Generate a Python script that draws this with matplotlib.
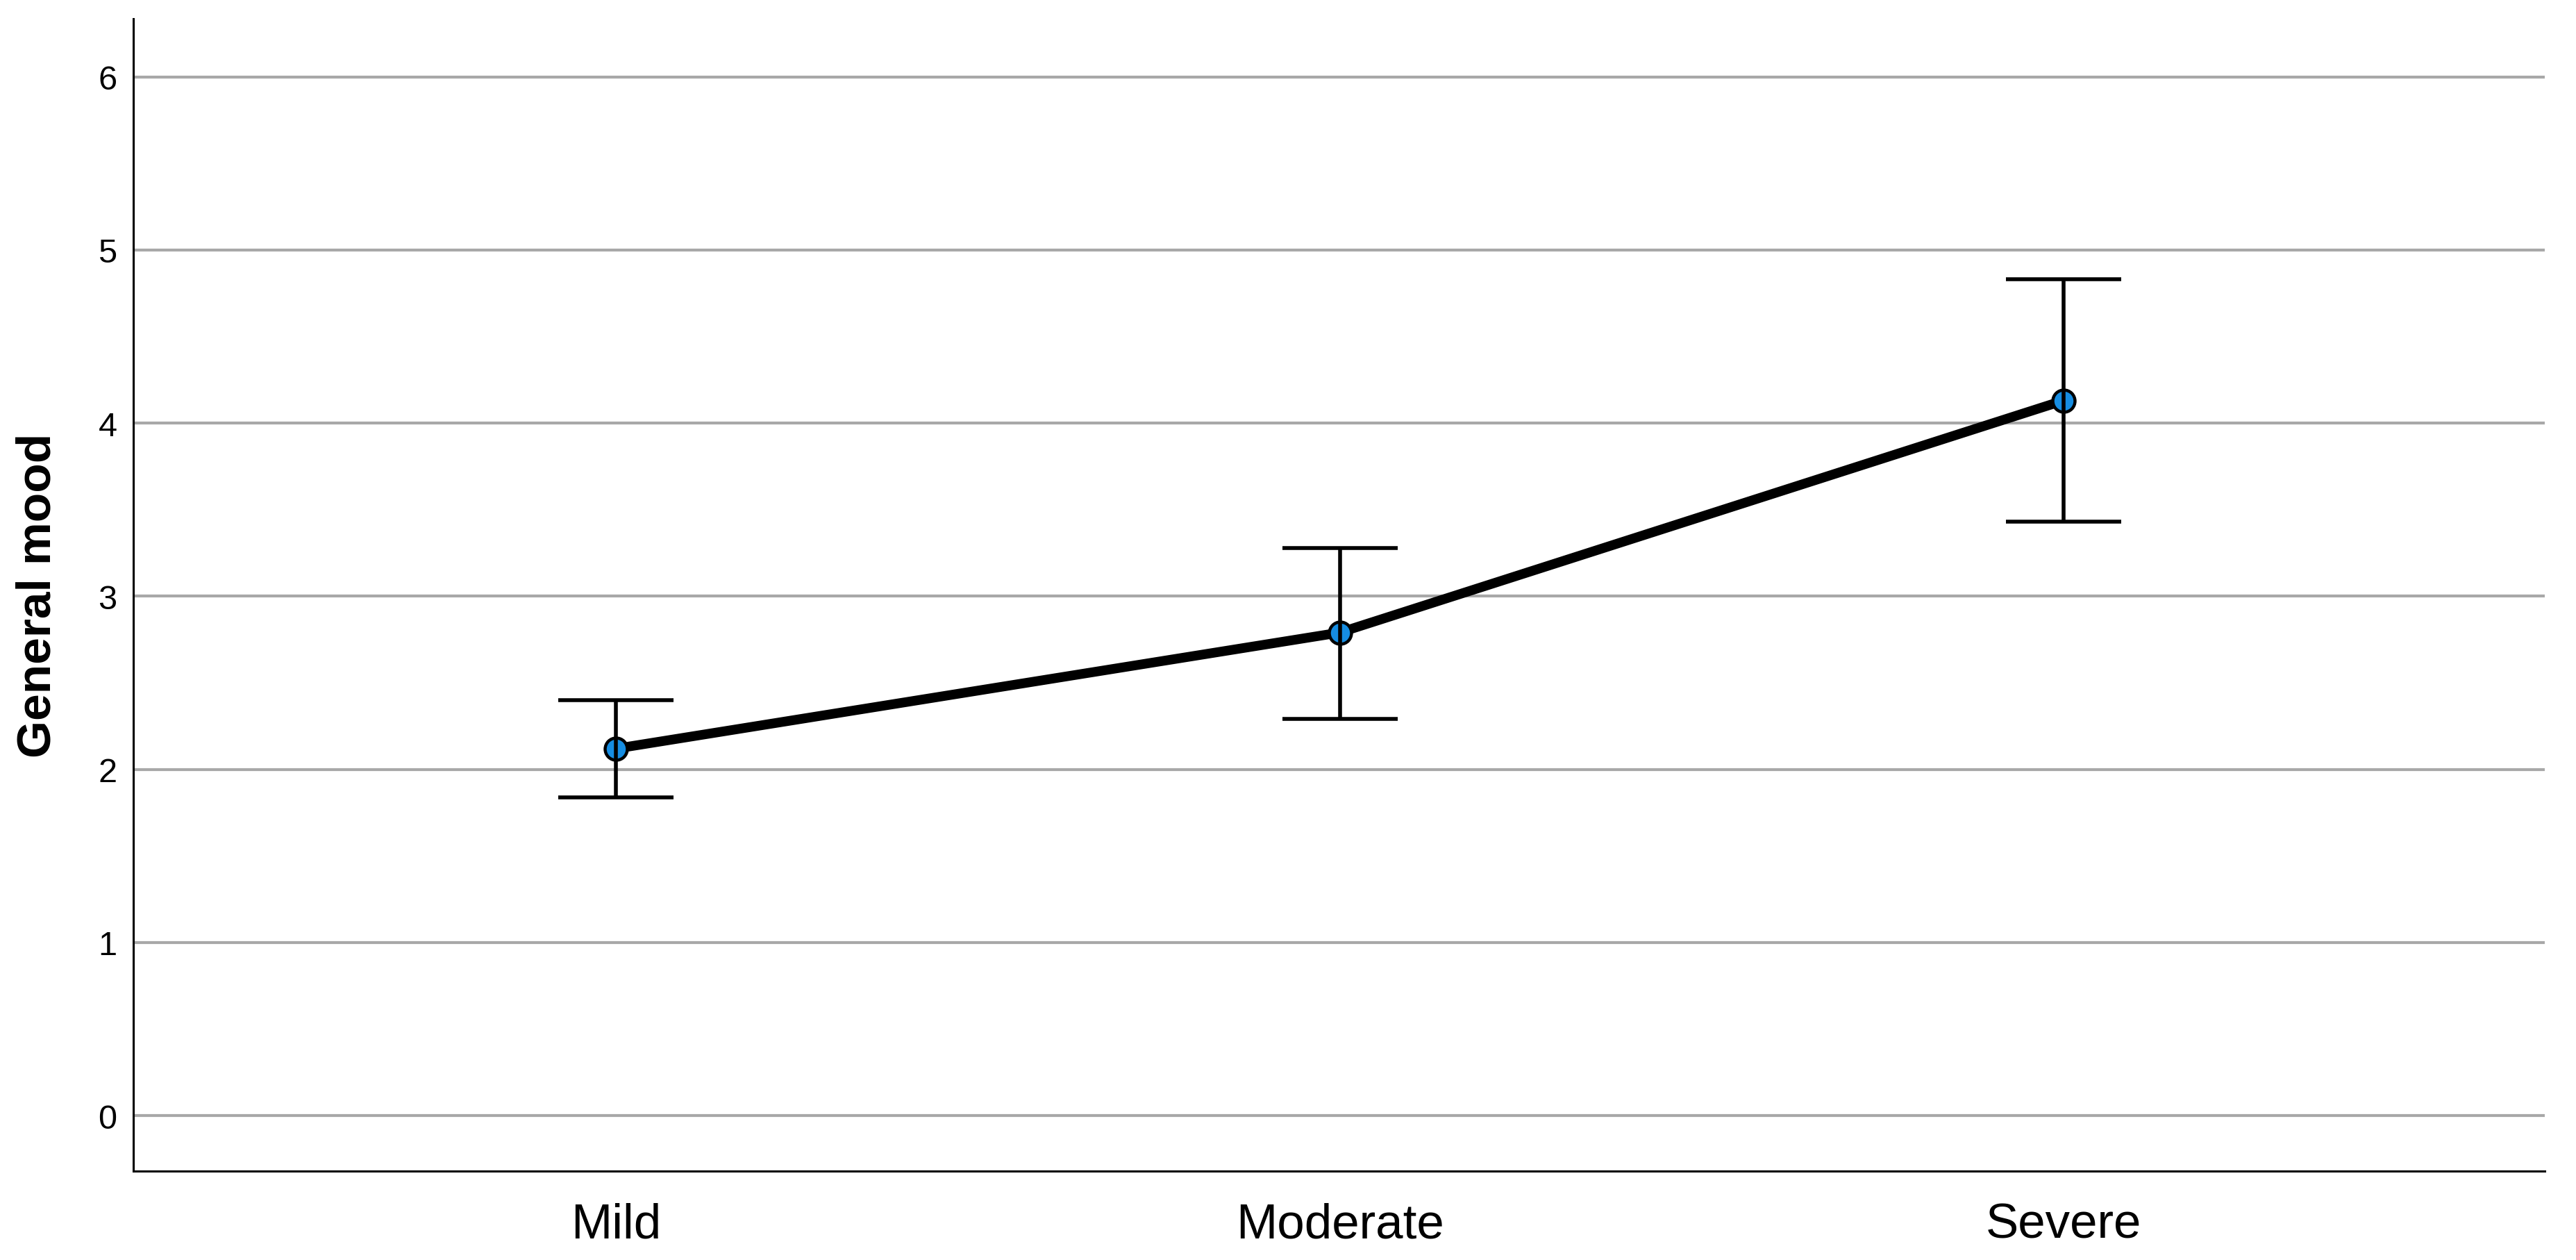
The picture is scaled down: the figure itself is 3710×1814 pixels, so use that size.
import numpy as np
import matplotlib.pyplot as plt

plt.rcParams['font.family'] = ['Liberation Sans', 'DejaVu Sans']

categories = ['Mild', 'Moderate', 'Severe']
means = [2.12, 2.79, 4.13]
ci_low = [1.84, 2.29, 3.43]
ci_high = [2.40, 3.28, 4.83]

x = np.arange(len(categories))
means = np.array(means)
yerr = [means - np.array(ci_low), np.array(ci_high) - means]

fig = plt.figure(figsize=(18.55, 9.075), dpi=200)
ax = fig.add_axes([192 / 3710, 1 - 1687 / 1815, (3665 - 192) / 3710, (1687 - 28) / 1815])

# grid behind everything
ax.set_axisbelow(True)
ax.yaxis.grid(True, color='#a8a8a8', linewidth=1.5)

ax.plot(x, means, color='black', linewidth=5.0, zorder=2, solid_capstyle='butt')
ax.scatter(x, means, s=11.5 ** 2, color='#168de2', edgecolor='black', linewidth=1.6, zorder=3)
ax.errorbar(x, means, yerr=yerr, fmt='none', ecolor='black', elinewidth=2.0,
            capsize=30, capthick=2.0, zorder=4)

ax.set_xlim(-0.667, 2.665)
ax.set_ylim(-0.32, 6.335)
ax.set_xticks(x)
ax.set_xticklabels(categories)
ax.set_yticks(range(0, 7))

ax.tick_params(axis='x', length=0, labelsize=25.5, pad=16)
ax.tick_params(axis='y', length=0, labelsize=17.5, pad=8.5)

for side in ['top', 'right']:
    ax.spines[side].set_visible(False)
for side in ['left', 'bottom']:
    ax.spines[side].set_linewidth(1.1)
    ax.spines[side].set_color('black')

ax.set_ylabel('General mood', fontsize=25, fontweight='bold')
ax.yaxis.set_label_coords(-0.0305, 0.5)

fig.savefig('out.png', dpi=200)
